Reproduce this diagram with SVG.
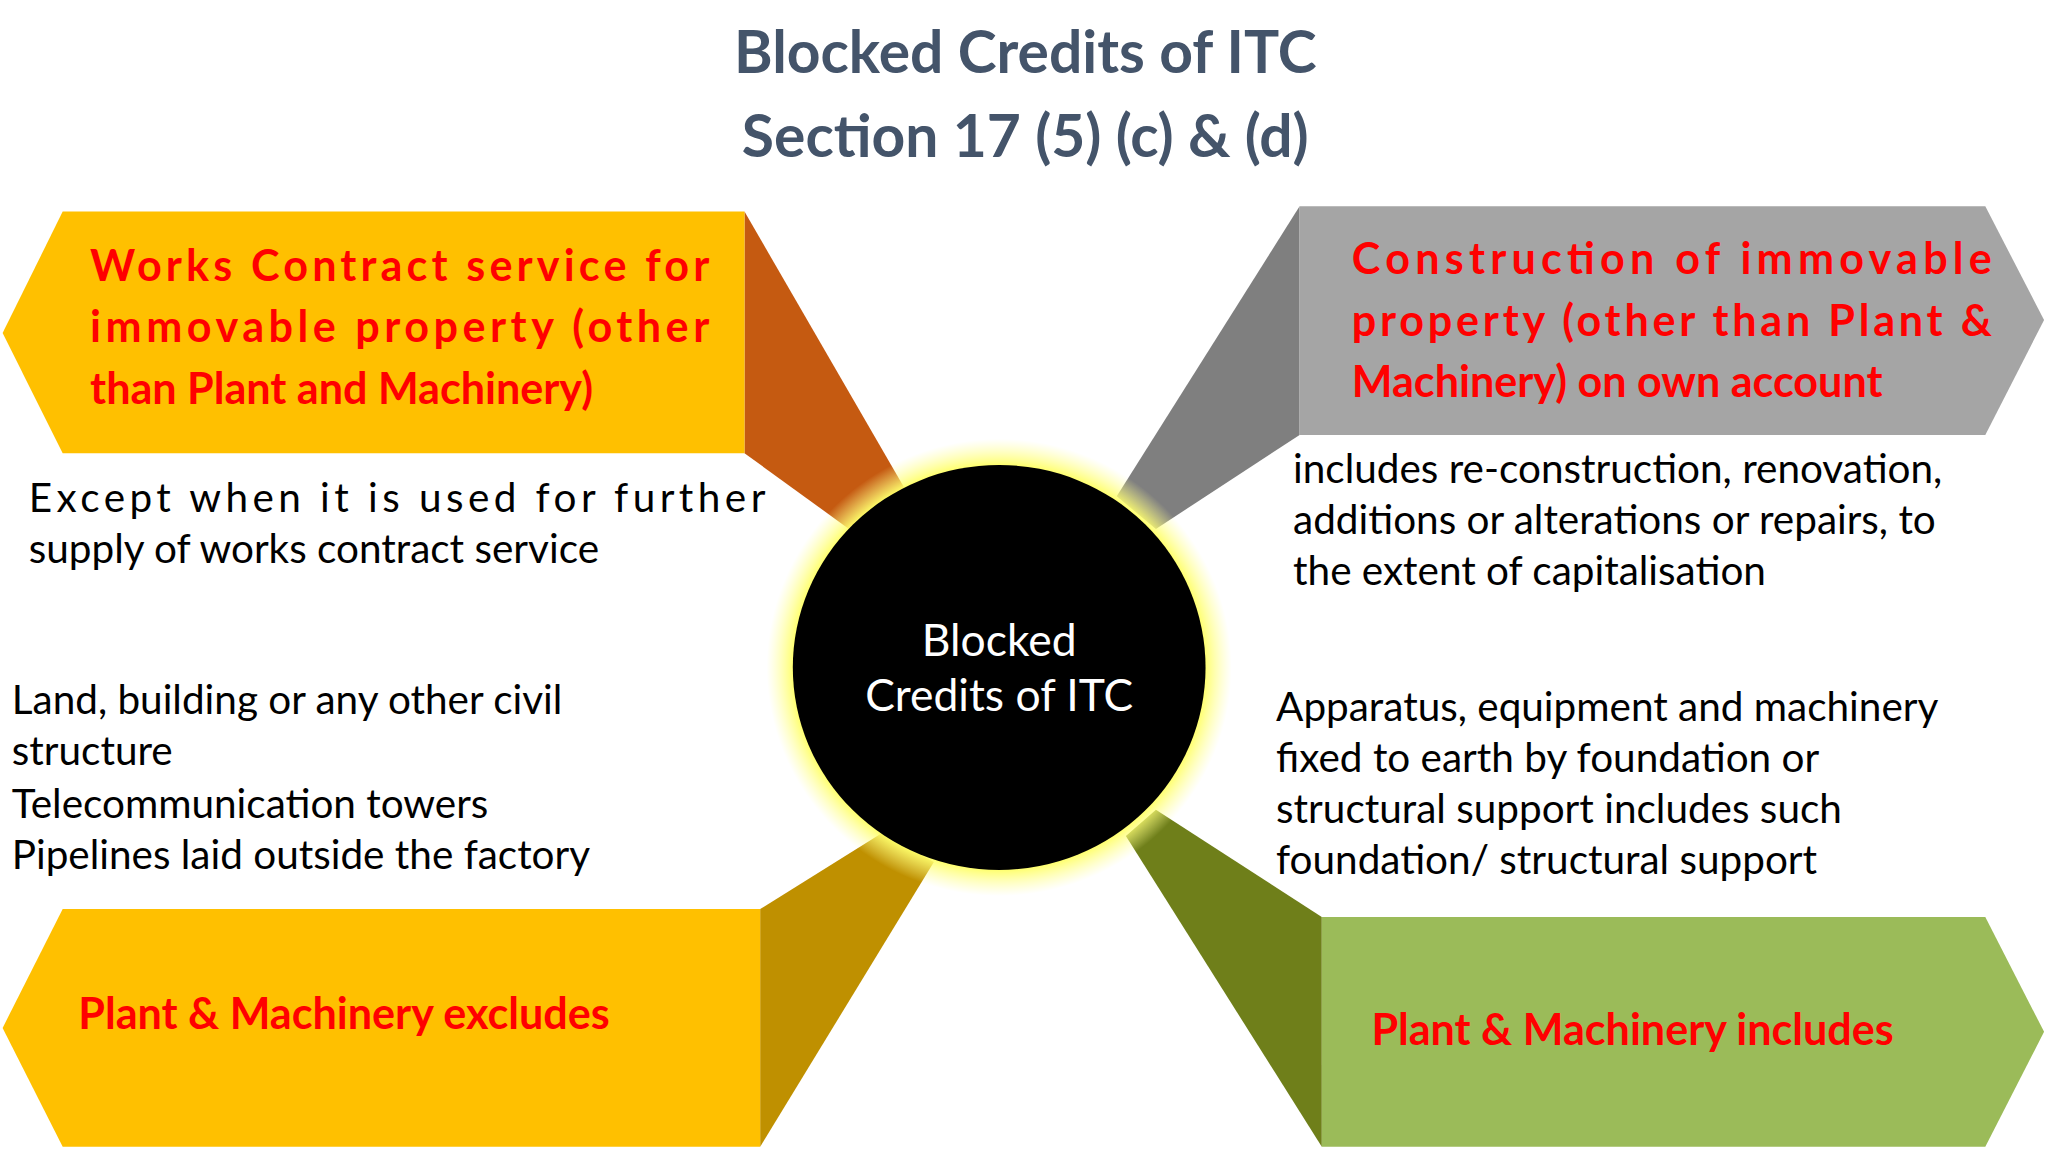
<svg xmlns="http://www.w3.org/2000/svg" width="2048" height="1152" viewBox="0 0 2048 1152">
<defs>
<style>
.t{font-family:Lato,"Open Sans",sans-serif;}
.title{font-size:45px;font-weight:bold;fill:#44546A;text-anchor:middle}
.lab{font-size:33px;font-weight:bold;fill:#FF0000}
.body{font-size:31px;fill:#000}
.ctr{font-size:34px;fill:#fff;text-anchor:middle}
</style>
<radialGradient id="glow" cx="0.5" cy="0.5" r="0.5">
<stop offset="0.88" stop-color="#FFFF66" stop-opacity="1"/>
<stop offset="1" stop-color="#FFFF99" stop-opacity="0"/>
</radialGradient>
</defs>
<rect width="2048" height="1152" fill="#fff"/>
<g transform="scale(1.30612)">
<g id="connectors">
<polygon points="570,162 695,378 650,405 570,347" fill="#C55A11"/>
<polygon points="995,158 995,333 885,405 855,380" fill="#7F7F7F"/>
<polygon points="582,696 582,878 715,660 675,638" fill="#BF9000"/>
<polygon points="1012,702 1012,878 862,640 885,620" fill="#6F7F1A"/>
</g>
<g id="title"><text class="t title" x="785" y="56">Blocked Credits of ITC</text><text class="t title" x="785" y="120">Section 17 (5) (c) &amp; (d)</text></g>
<g id="n-works">
<polygon points="2,255 48,162 570,162 570,347 48,347" fill="#FFC000"/>
<text class="t lab" x="69" y="215" textLength="474" lengthAdjust="spacing">Works Contract service for</text>
<text class="t lab" x="69" y="262" textLength="474" lengthAdjust="spacing">immovable property (other</text>
<text class="t lab" x="69" y="309">than Plant and Machinery)</text>
</g>
<g id="n-construction">
<polygon points="995,158 1520,158 1565,245 1520,333 995,333" fill="#A5A5A5"/>
<text class="t lab" x="1035" y="210" textLength="490" lengthAdjust="spacing">Construction of immovable</text>
<text class="t lab" x="1035" y="257" textLength="490" lengthAdjust="spacing">property (other than Plant &amp;</text>
<text class="t lab" x="1035" y="304">Machinery) on own account</text>
</g>
<g id="n-excludes">
<polygon points="2,787 48,696 582,696 582,878 48,878" fill="#FFC000"/>
<text class="t lab" x="60" y="788">Plant &amp; Machinery excludes</text>
</g>
<g id="n-includes">
<polygon points="1012,702 1520,702 1565,790 1520,878 1012,878" fill="#9BBB59"/>
<text class="t lab" x="1050" y="800">Plant &amp; Machinery includes</text>
</g>
<g id="n-except">
<text class="t body" x="22" y="392" textLength="564" lengthAdjust="spacing">Except when it is used for further</text>
<text class="t body" x="22" y="431">supply of works contract service</text>
</g>
<g id="n-reconstruction">
<text class="t body" x="990" y="370">includes re-construction, renovation,</text>
<text class="t body" x="990" y="409">additions or alterations or repairs, to</text>
<text class="t body" x="990" y="448">the extent of capitalisation</text>
</g>
<g id="n-land">
<text class="t body" x="9" y="547">Land, building or any other civil</text>
<text class="t body" x="9" y="586">structure</text>
<text class="t body" x="9" y="626">Telecommunication towers</text>
<text class="t body" x="9" y="665">Pipelines laid outside the factory</text>
</g>
<g id="n-apparatus">
<text class="t body" x="977" y="552">Apparatus, equipment and machinery</text>
<text class="t body" x="977" y="591">fixed to earth by foundation or</text>
<text class="t body" x="977" y="630">structural support includes such</text>
<text class="t body" x="977" y="669">foundation/ structural support</text>
</g>
<g id="n-center">
<ellipse cx="765" cy="511" rx="178" ry="175" fill="url(#glow)"/>
<ellipse cx="765" cy="511" rx="158" ry="155" fill="#000"/>
<text class="t ctr" x="765" y="502">Blocked</text>
<text class="t ctr" x="765" y="544">Credits of ITC</text>
</g>
</g>
</svg>
